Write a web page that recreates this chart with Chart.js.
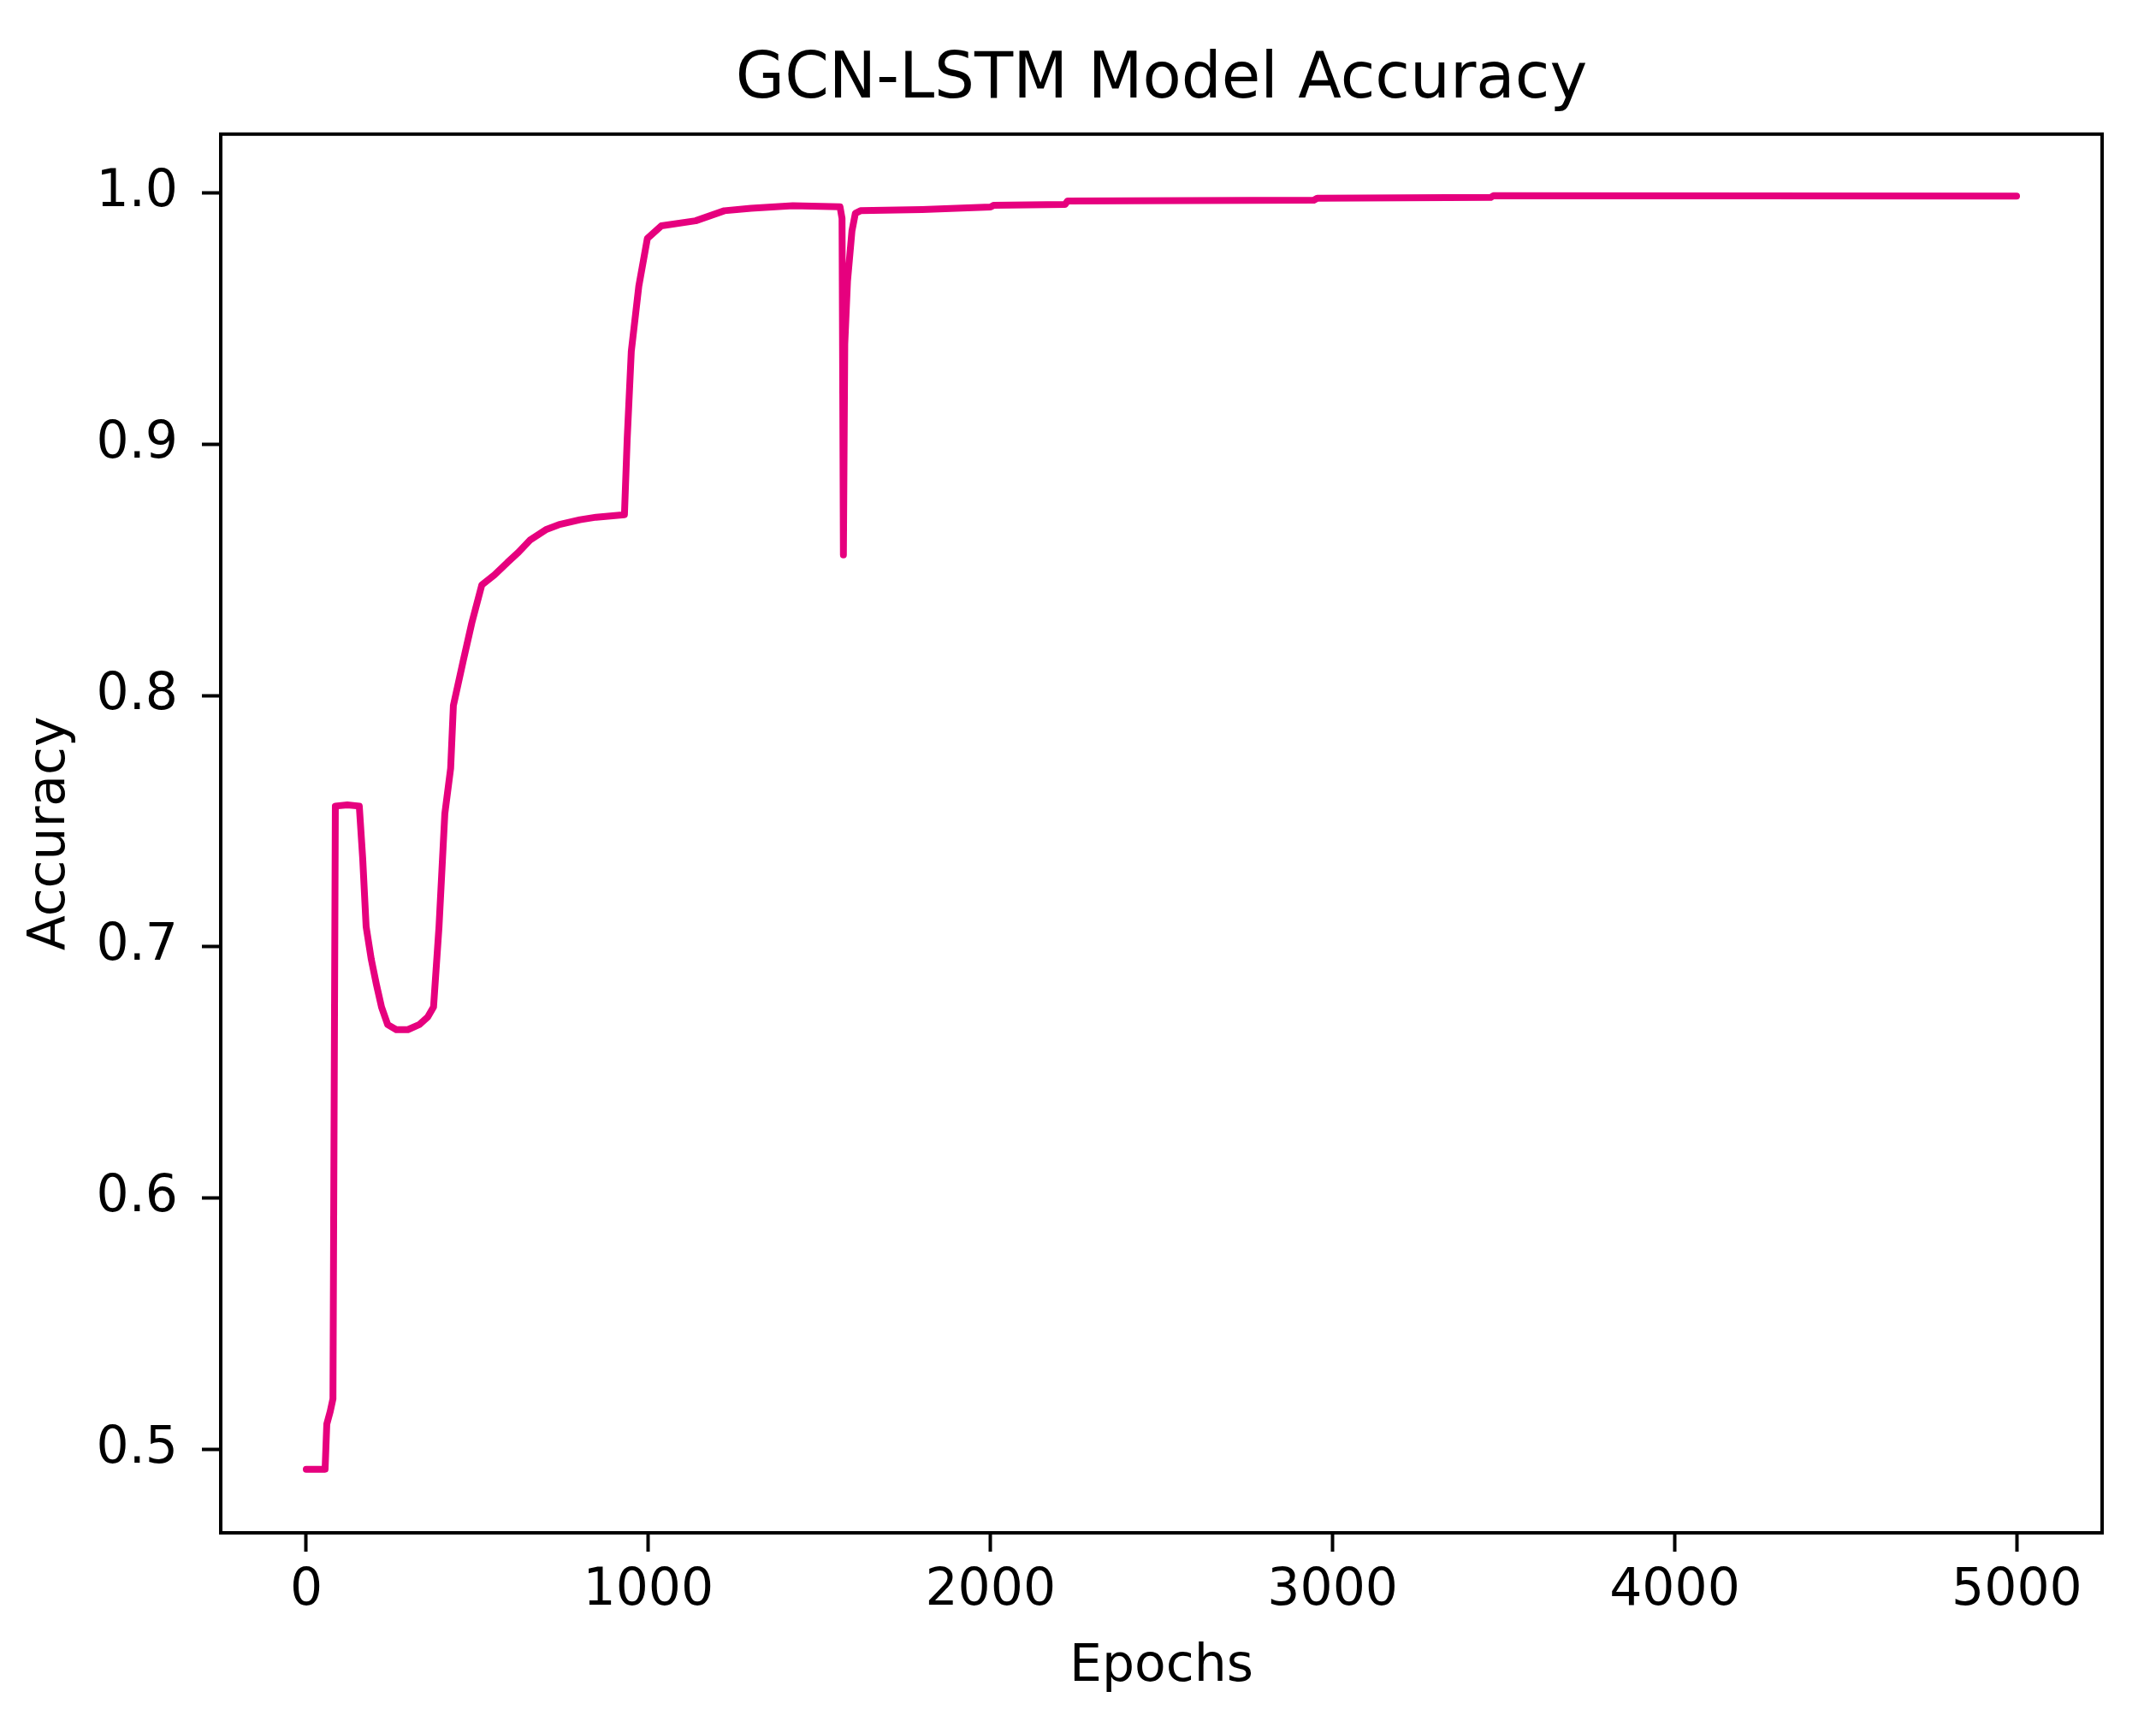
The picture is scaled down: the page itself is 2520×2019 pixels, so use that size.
<!DOCTYPE html>
<html>
<head>
<meta charset="utf-8">
<title>GCN-LSTM Model Accuracy</title>
<script src="https://cdn.jsdelivr.net/npm/chart.js@4.4.1/dist/chart.umd.min.js"></script>
<style>
  html, body { margin: 0; padding: 0; background: #ffffff; overflow: hidden; }
  #wrap { width: 2520px; height: 2019px; }
</style>
</head>
<body>
<div id="wrap"><canvas id="acc_chart"></canvas></div>
<script>
// values
const epochs = [
  0, 55, 60, 70, 78, 85, 120, 155, 165, 175,
  190, 205, 220, 238, 263, 297, 330, 355, 372, 388,
  405, 422, 430, 459, 484, 513, 550, 588, 620, 655,
  700, 738, 800, 847, 930, 938, 950, 972, 997, 1038,
  1138, 1222, 1300, 1422, 1560, 1566, 1570, 1574, 1582, 1595,
  1605, 1620, 1800, 2000, 2010, 2218, 2225, 2945, 2955, 3462,
  3470, 4999
];
const accuracy = [
  0.492, 0.492, 0.510, 0.515, 0.520, 0.756, 0.7565, 0.756, 0.735, 0.708,
  0.695, 0.685, 0.676, 0.669, 0.667, 0.667, 0.669, 0.672, 0.676, 0.708,
  0.753, 0.771, 0.796, 0.814, 0.829, 0.844, 0.848, 0.853, 0.857, 0.862,
  0.866, 0.868, 0.870, 0.871, 0.872, 0.902, 0.937, 0.963, 0.982, 0.987,
  0.989, 0.993, 0.994, 0.995, 0.9946, 0.990, 0.856, 0.940, 0.965, 0.985,
  0.992, 0.9930, 0.9935, 0.9945, 0.9952, 0.9955, 0.9969, 0.9972, 0.9980, 0.9983,
  0.9990, 0.9988
];
const x_ticks = [0, 1000, 2000, 3000, 4000, 5000];
const y_ticks = [0.5, 0.6, 0.7, 0.8, 0.9, 1.0];

const font_family = "'DejaVu Sans', sans-serif";

const points = epochs.map((e, i) => ({ x: e, y: accuracy[i] }));

// white page plus the full axes box
const frame_plugin = {
  id: "frame",
  beforeDraw(chart) {
    const ctx = chart.ctx;
    ctx.save();
    ctx.fillStyle = "#ffffff";
    ctx.fillRect(0, 0, chart.width, chart.height);
    ctx.restore();
  },
  afterDraw(chart) {
    const a = chart.chartArea;
    const ctx = chart.ctx;
    ctx.save();
    ctx.strokeStyle = "#000000";
    ctx.lineWidth = 4;
    ctx.strokeRect(a.left, a.top, a.right - a.left, a.bottom - a.top);
    ctx.restore();
  },
};

const config = {
  type: "line",
  data: {
    datasets: [
      {
        label: "Accuracy",
        data: points,
        borderColor: "#e6007e",
        borderWidth: 8,
        pointRadius: 0,
        tension: 0,
        fill: false,
        borderJoinStyle: "round",
        borderCapStyle: "round",
      },
    ],
  },
  options: {
    animation: false,
    responsive: true,
    maintainAspectRatio: false,
    devicePixelRatio: 1,
    layout: { padding: { left: 0, right: 63, top: 0, bottom: 0 } },
    plugins: {
      legend: { display: false },
      tooltip: { enabled: false },
      title: {
        display: true,
        text: "GCN-LSTM Model Accuracy",
        fullSize: false,
        color: "#000000",
        font: { family: font_family, size: 74, weight: "normal" },
        padding: { top: 50, bottom: 18 },
      },
    },
    scales: {
      x: {
        type: "linear",
        min: -250,
        max: 5249,
        afterBuildTicks: (s) => { s.ticks = x_ticks.map((v) => ({ value: v })); },
        afterFit: (s) => { s.height = 227; },
        grid: {
          display: true,
          drawOnChartArea: false,
          drawTicks: true,
          tickLength: 22,
          tickWidth: 4,
          tickColor: "#000000",
        },
        border: { display: false },
        ticks: {
          color: "#000000",
          padding: 10,
          maxRotation: 0,
          font: { family: font_family, size: 60 },
          callback: (v) => String(v),
        },
        title: {
          display: true,
          text: "Epochs",
          color: "#000000",
          font: { family: font_family, size: 60 },
          padding: { top: 0, bottom: 34 },
        },
      },
      y: {
        type: "linear",
        min: 0.4667,
        max: 1.0235,
        afterBuildTicks: (s) => { s.ticks = y_ticks.map((v) => ({ value: v })); },
        afterFit: (s) => { s.width = 258; },
        grid: {
          display: true,
          drawOnChartArea: false,
          drawTicks: true,
          tickLength: 22,
          tickWidth: 4,
          tickColor: "#000000",
        },
        border: { display: false },
        ticks: {
          color: "#000000",
          padding: 28,
          font: { family: font_family, size: 60 },
          callback: (v) => Number(v).toFixed(1),
        },
        title: {
          display: true,
          text: "Accuracy",
          color: "#000000",
          font: { family: font_family, size: 60 },
          padding: { top: 23, bottom: 0 },
        },
      },
    },
  },
  plugins: [frame_plugin],
};

new Chart(document.getElementById("acc_chart"), config);
</script>
</body>
</html>
